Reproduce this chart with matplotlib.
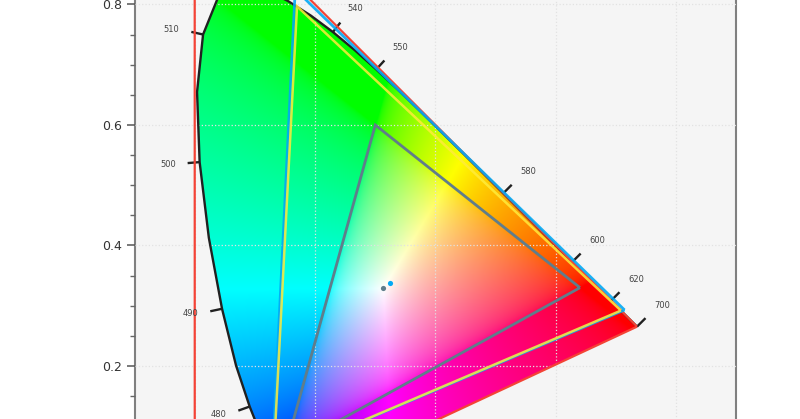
import numpy as np
import matplotlib
matplotlib.use("Agg")
import matplotlib.pyplot as plt
from matplotlib.patches import Polygon
from matplotlib.ticker import MultipleLocator

# CIE 1931 spectral locus, 380-700 nm every 5 nm
wavelengths = list(range(380, 705, 5))
locus_x = [0.1741, 0.1740, 0.1738, 0.1736, 0.1733, 0.1730, 0.1726, 0.1721, 0.1714, 0.1703,
           0.1689, 0.1669, 0.1644, 0.1611, 0.1566, 0.1510, 0.1440, 0.1355, 0.1241, 0.1096,
           0.0913, 0.0687, 0.0454, 0.0235, 0.0082, 0.0039, 0.0139, 0.0389, 0.0743, 0.1142,
           0.1547, 0.1929, 0.2296, 0.2658, 0.3016, 0.3373, 0.3731, 0.4087, 0.4441, 0.4788,
           0.5125, 0.5448, 0.5752, 0.6029, 0.6270, 0.6482, 0.6658, 0.6801, 0.6915, 0.7006,
           0.7079, 0.7140, 0.7190, 0.7230, 0.7260, 0.7283, 0.7300, 0.7311, 0.7320, 0.7327,
           0.7334, 0.7340, 0.7344, 0.7346, 0.7347]
locus_y = [0.0050, 0.0050, 0.0049, 0.0049, 0.0048, 0.0048, 0.0048, 0.0048, 0.0051, 0.0058,
           0.0069, 0.0086, 0.0109, 0.0138, 0.0177, 0.0227, 0.0297, 0.0399, 0.0578, 0.0868,
           0.1327, 0.2007, 0.2950, 0.4127, 0.5384, 0.6548, 0.7502, 0.8120, 0.8338, 0.8262,
           0.8059, 0.7816, 0.7543, 0.7243, 0.6923, 0.6589, 0.6245, 0.5896, 0.5547, 0.5202,
           0.4866, 0.4544, 0.4242, 0.3965, 0.3725, 0.3514, 0.3340, 0.3197, 0.3083, 0.2993,
           0.2920, 0.2859, 0.2809, 0.2770, 0.2740, 0.2717, 0.2700, 0.2689, 0.2680, 0.2673,
           0.2666, 0.2660, 0.2656, 0.2654, 0.2653]
labelled_nm = [480, 490, 500, 510, 540, 550, 580, 600, 620, 700]

# gamut triangles (red, green, blue primaries)
ap0_x, ap0_y = [0.7347, 0.0, 0.0001], [0.2653, 1.0, -0.077]
wide_x, wide_y = [0.714, 0.167, 0.129], [0.293, 0.825, 0.045]
bt2020_x, bt2020_y = [0.708, 0.170, 0.131], [0.292, 0.797, 0.046]
bt709_x, bt709_y = [0.64, 0.30, 0.15], [0.33, 0.60, 0.06]

# white points
white_x = [0.3236, 0.3127]
white_y = [0.338, 0.329]

y_ticks = [0.0, 0.2, 0.4, 0.6, 0.8, 1.0]
x_ticks = [0.0, 0.2, 0.4, 0.6, 0.8]

# the reference is a crop, so the axes run past the top and bottom of the figure
fig = plt.figure(figsize=(8, 4.19), dpi=100)
ax = fig.add_axes([134.5 / 800, (419 - 546.75) / 419, 602 / 800, 662.75 / 419])
ax.set_facecolor("#F5F5F5")
ax.set_xlim(-0.1, 0.9)
ax.set_ylim(-0.1, 1.0)

# chromaticity fill
xx, yy = np.meshgrid(np.linspace(-0.1, 0.9, 700), np.linspace(1.0, -0.1, 770))
yy_safe = np.where(yy == 0, 1e-6, yy)
X = xx / yy_safe
Z = (1 - xx - yy) / yy_safe
r = 3.2406 * X - 1.5372 - 0.4986 * Z
g = -0.9689 * X + 1.8758 + 0.0415 * Z
b = 0.0557 * X - 0.2040 + 1.0570 * Z
rgb = np.clip(np.dstack([r, g, b]), 0, None)
rgb = rgb / np.maximum(rgb.max(axis=2, keepdims=True), 1e-9)
rgb = np.where(rgb <= 0.0031308, 12.92 * rgb, 1.055 * rgb ** (1 / 2.4) - 0.055)
img = ax.imshow(np.clip(rgb, 0, 1), extent=(-0.1, 0.9, -0.1, 1.0), origin="upper",
                aspect="auto", interpolation="bilinear", zorder=1)
clip = Polygon(np.column_stack([locus_x, locus_y]), closed=True, transform=ax.transData)
img.set_clip_path(clip)

ax.grid(True, which="major", color="#E2E2E2", linestyle=":", linewidth=0.9, zorder=2)
ax.set_axisbelow(False)

# spectral locus outline, without the purple edge
ax.plot(locus_x, locus_y, color="#212121", lw=1.7, zorder=3, solid_capstyle="butt")

# wavelength ticks and labels, along the outward normal of the locus
lx = np.array(locus_x)
ly = np.array(locus_y)
dx = np.gradient(lx)
dy = np.gradient(ly)
for nm in labelled_nm:
    i = wavelengths.index(nm)
    nx, ny = -dy[i], dx[i]
    norm = np.hypot(nx, ny)
    nx, ny = nx / norm, ny / norm
    if nx * (lx[i] - 0.333) + ny * (ly[i] - 0.333) < 0:
        nx, ny = -nx, -ny
    ax.plot([lx[i], lx[i] + nx * 0.02], [ly[i], ly[i] + ny * 0.02],
            color="#212121", lw=1.7, zorder=3, solid_capstyle="butt")
    ax.text(lx[i] + nx * 0.04, ly[i] + ny * 0.04, str(nm), fontsize=6, color="#444444",
            ha="left" if nx >= 0 else "right", va="bottom" if nx >= 0 else "center", zorder=6)

# gamut triangles
ax.add_patch(Polygon(np.column_stack([ap0_x, ap0_y]), closed=True, fill=False,
                     edgecolor="#F44336", lw=1.6, zorder=4, clip_on=True))
ax.add_patch(Polygon(np.column_stack([wide_x, wide_y]), closed=True, fill=False,
                     edgecolor="#03A9F4", lw=2.0, alpha=0.9, zorder=4))
ax.add_patch(Polygon(np.column_stack([bt2020_x, bt2020_y]), closed=True, fill=False,
                     edgecolor="#FFEB3B", lw=1.8, alpha=0.85, zorder=5))
ax.add_patch(Polygon(np.column_stack([bt709_x, bt709_y]), closed=True, fill=False,
                     edgecolor="#607D8B", lw=2.0, zorder=5))

ax.scatter(white_x[0], white_y[0], s=14, color="#03A9F4", linewidths=0, zorder=6)
ax.scatter(white_x[1], white_y[1], s=14, color="#607D8B", linewidths=0, zorder=6)

# axes styling
ax.set_xticks(x_ticks)
ax.set_yticks(y_ticks)
ax.yaxis.set_minor_locator(MultipleLocator(0.05))
ax.tick_params(axis="y", which="major", length=5.8, width=1.1, color="#555555",
               labelsize=9, labelcolor="#333333", pad=3)
ax.tick_params(axis="y", which="minor", length=3.4, width=1.0, color="#666666")
for side in ["left", "right"]:
    ax.spines[side].set_color("#808080")
    ax.spines[side].set_linewidth(1.5)

plt.savefig("out.png", dpi=100)
